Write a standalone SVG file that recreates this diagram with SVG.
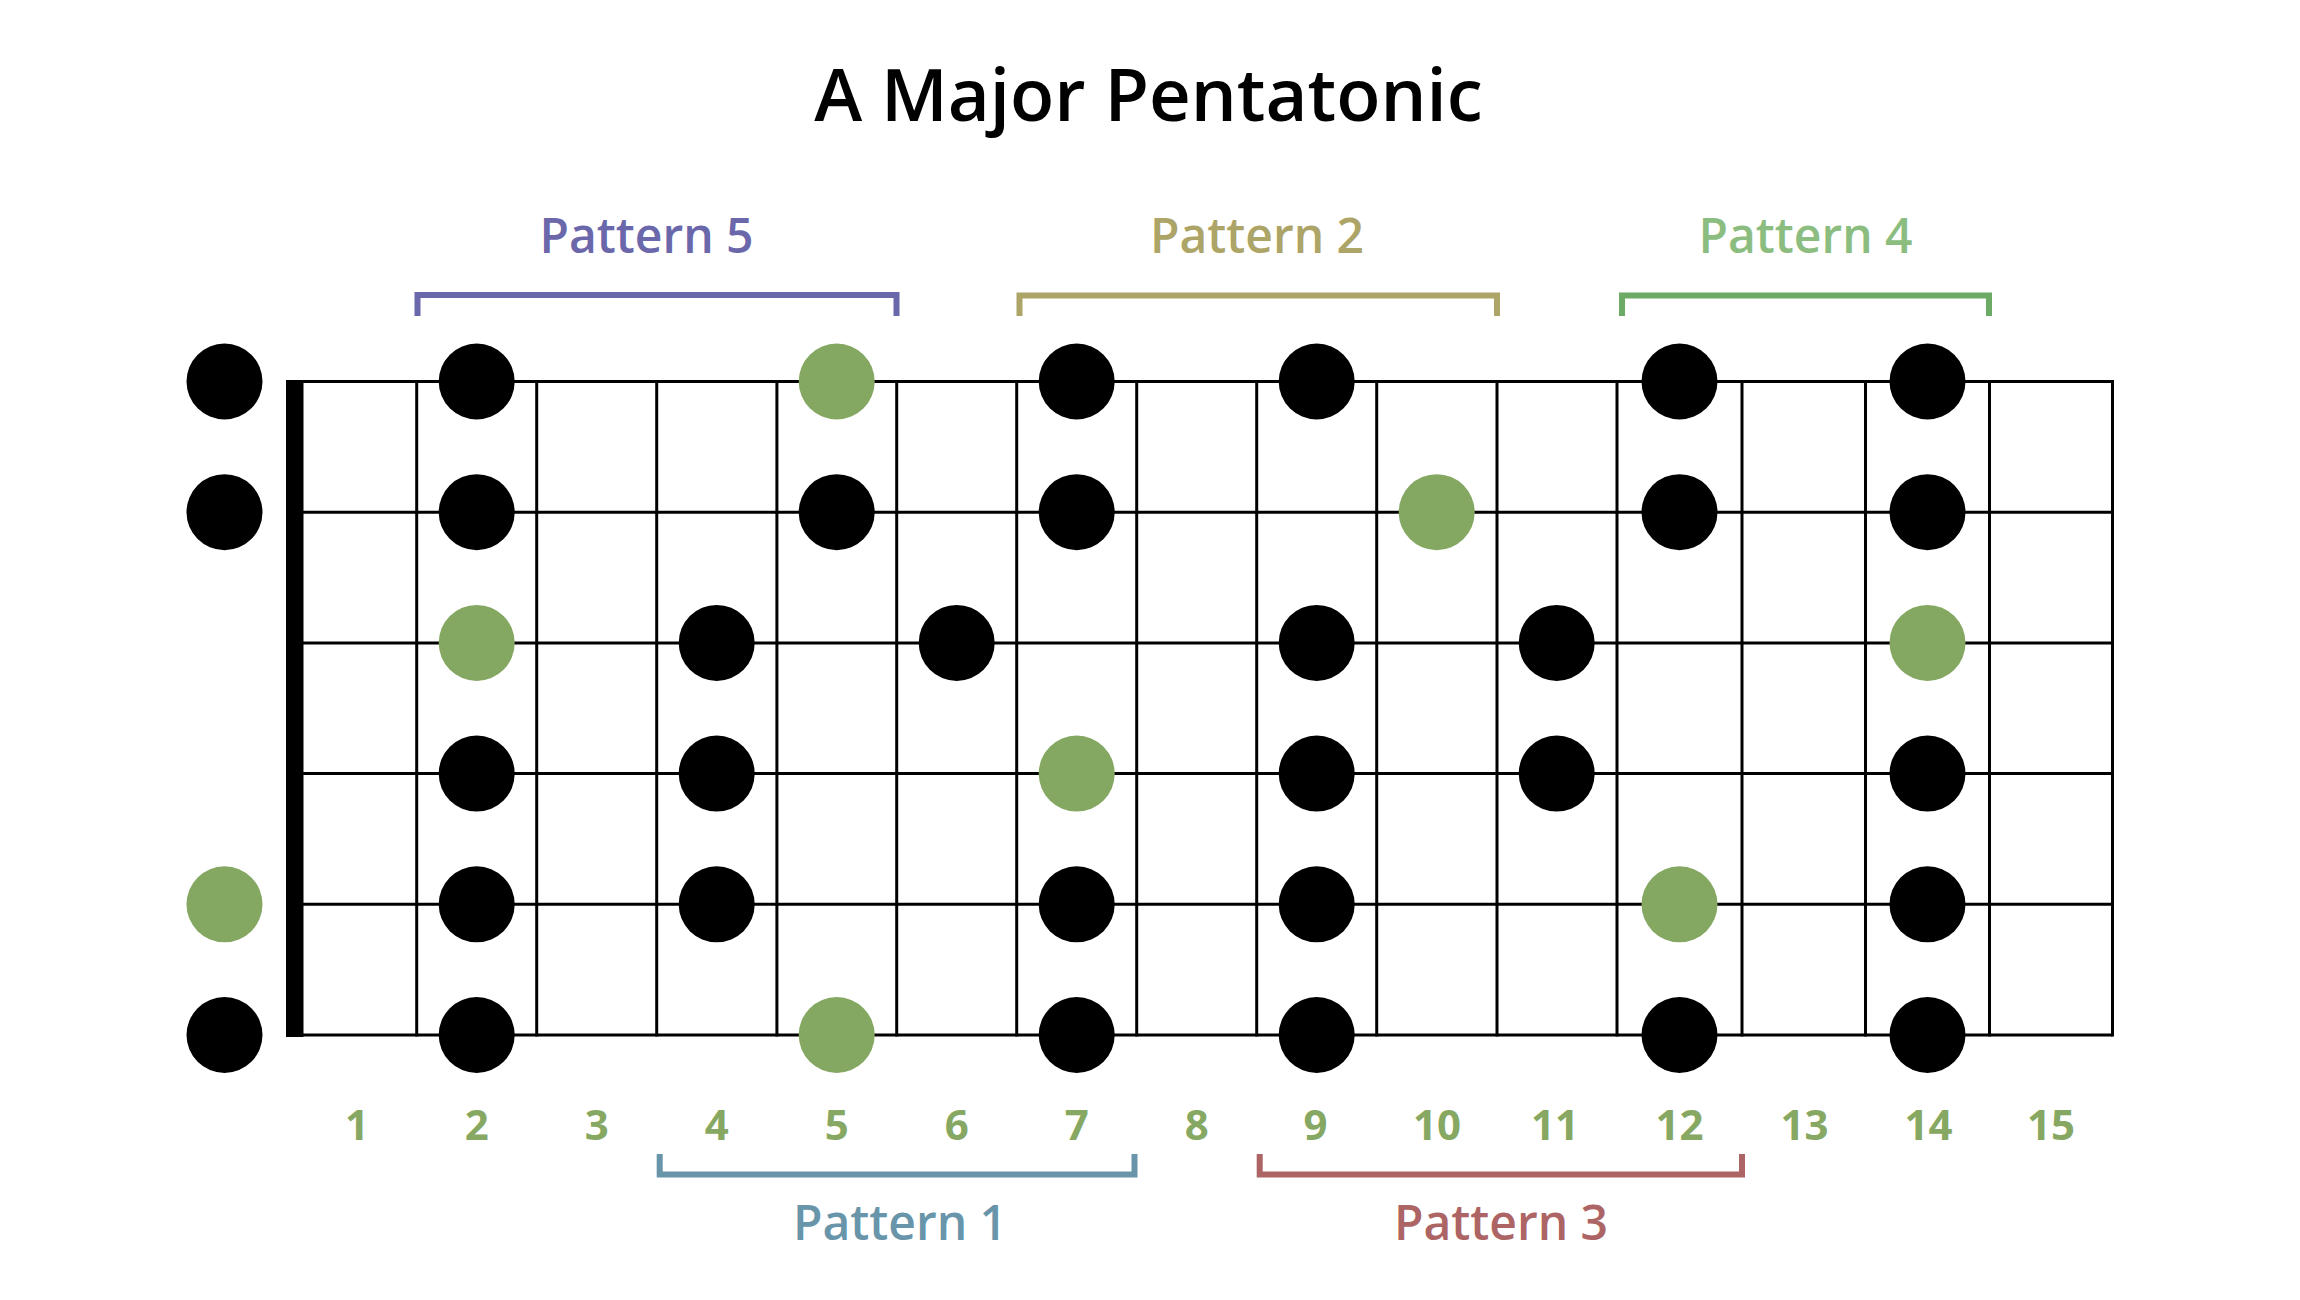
<svg xmlns="http://www.w3.org/2000/svg" width="2300" height="1300" viewBox="0 0 2300 1300">
<style>
  .title{font-family:"Open Sans","Noto Sans","Liberation Sans",sans-serif;font-weight:600;font-size:72.5px;fill:#000;text-anchor:middle}
  .pat{font-family:"Open Sans","Noto Sans","Liberation Sans",sans-serif;font-weight:600;font-size:48px;text-anchor:middle}
  .num{font-family:"Open Sans","Noto Sans","Liberation Sans",sans-serif;font-weight:700;font-size:42px;fill:#86a863;text-anchor:middle}
  .str{stroke:#000;stroke-width:3;fill:none}
  .fret{stroke:#000;stroke-width:3;fill:none}
  .br{fill:none;stroke-width:6;stroke-linecap:butt;stroke-linejoin:miter}
  .b{fill:#000}
  .g{fill:#84a862}
</style>
<rect width="2300" height="1300" fill="#fff"/>
<text class="title" x="1148.5" y="121">A Major Pentatonic</text>

<g id="fretboard">
  <rect x="286" y="380" width="17.5" height="657" fill="#000"/>
  <g class="str">
    <line x1="303" y1="381.5" x2="2112.5" y2="381.5"/>
    <line x1="303" y1="512.2" x2="2112.5" y2="512.2"/>
    <line x1="303" y1="642.9" x2="2112.5" y2="642.9"/>
    <line x1="303" y1="773.6" x2="2112.5" y2="773.6"/>
    <line x1="303" y1="904.3" x2="2112.5" y2="904.3"/>
    <line x1="303" y1="1035" x2="2112.5" y2="1035"/>
  </g>
  <g class="fret">
    <line x1="416.7" y1="380" x2="416.7" y2="1036.5"/>
    <line x1="536.7" y1="380" x2="536.7" y2="1036.5"/>
    <line x1="656.7" y1="380" x2="656.7" y2="1036.5"/>
    <line x1="776.9" y1="380" x2="776.9" y2="1036.5"/>
    <line x1="896.7" y1="380" x2="896.7" y2="1036.5"/>
    <line x1="1016.7" y1="380" x2="1016.7" y2="1036.5"/>
    <line x1="1136.7" y1="380" x2="1136.7" y2="1036.5"/>
    <line x1="1256.7" y1="380" x2="1256.7" y2="1036.5"/>
    <line x1="1376.7" y1="380" x2="1376.7" y2="1036.5"/>
    <line x1="1497" y1="380" x2="1497" y2="1036.5"/>
    <line x1="1617" y1="380" x2="1617" y2="1036.5"/>
    <line x1="1742" y1="380" x2="1742" y2="1036.5"/>
    <line x1="1865.5" y1="380" x2="1865.5" y2="1036.5"/>
    <line x1="1989.5" y1="380" x2="1989.5" y2="1036.5"/>
    <line x1="2112.5" y1="380" x2="2112.5" y2="1036.5"/>
  </g>
</g>

<g id="fret-numbers">
  <text class="num" x="357" y="1140">1</text>
  <text class="num" x="476.7" y="1140">2</text>
  <text class="num" x="596.7" y="1140">3</text>
  <text class="num" x="716.7" y="1140">4</text>
  <text class="num" x="836.7" y="1140">5</text>
  <text class="num" x="956.7" y="1140">6</text>
  <text class="num" x="1076.7" y="1140">7</text>
  <text class="num" x="1196.7" y="1140">8</text>
  <text class="num" x="1315.5" y="1140">9</text>
  <text class="num" x="1437" y="1140">10</text>
  <text class="num" x="1555" y="1140">11</text>
  <text class="num" x="1679.5" y="1140">12</text>
  <text class="num" x="1804.5" y="1140">13</text>
  <text class="num" x="1928.5" y="1140">14</text>
  <text class="num" x="2051" y="1140">15</text>
</g>

<g id="connectors">
  <path id="bracket-p5" class="br" stroke="#6a67ab" d="M417.5 316 V295 H896.5 V316"/>
  <path id="bracket-p2" class="br" stroke="#ada467" d="M1019.5 316 V295.5 H1497 V316"/>
  <path id="bracket-p4" class="br" stroke="#6cab66" d="M1622 316 V295.5 H1989 V316"/>
  <path id="bracket-p1" class="br" stroke="#6895aa" d="M659.7 1154 V1174.5 H1134.5 V1154"/>
  <path id="bracket-p3" class="br" stroke="#ad6464" d="M1259.7 1154 V1174.5 H1742 V1154"/>
</g>

<g id="pattern-5"><text class="pat" fill="#6a67ab" x="646.5" y="253.3">Pattern 5</text></g>
<g id="pattern-2"><text class="pat" fill="#ada467" x="1257" y="253.3">Pattern 2</text></g>
<g id="pattern-4"><text class="pat" fill="#8cbd80" x="1805.5" y="253.3">Pattern 4</text></g>
<g id="pattern-1"><text class="pat" fill="#6895aa" x="900" y="1240">Pattern 1</text></g>
<g id="pattern-3"><text class="pat" fill="#ad6464" x="1501" y="1240">Pattern 3</text></g>

<g id="string-1">
  <circle class="b" cx="224.5" cy="381.5" r="38"/>
  <circle class="b" cx="476.7" cy="381.5" r="38"/>
  <circle class="g" cx="836.7" cy="381.5" r="38"/>
  <circle class="b" cx="1076.7" cy="381.5" r="38"/>
  <circle class="b" cx="1316.7" cy="381.5" r="38"/>
  <circle class="b" cx="1679.5" cy="381.5" r="38"/>
  <circle class="b" cx="1927.5" cy="381.5" r="38"/>
</g>
<g id="string-2">
  <circle class="b" cx="224.5" cy="512.2" r="38"/>
  <circle class="b" cx="476.7" cy="512.2" r="38"/>
  <circle class="b" cx="836.7" cy="512.2" r="38"/>
  <circle class="b" cx="1076.7" cy="512.2" r="38"/>
  <circle class="g" cx="1436.7" cy="512.2" r="38"/>
  <circle class="b" cx="1679.5" cy="512.2" r="38"/>
  <circle class="b" cx="1927.5" cy="512.2" r="38"/>
</g>
<g id="string-3">
  <circle class="g" cx="476.7" cy="642.9" r="38"/>
  <circle class="b" cx="716.7" cy="642.9" r="38"/>
  <circle class="b" cx="956.7" cy="642.9" r="38"/>
  <circle class="b" cx="1316.7" cy="642.9" r="38"/>
  <circle class="b" cx="1556.7" cy="642.9" r="38"/>
  <circle class="g" cx="1927.5" cy="642.9" r="38"/>
</g>
<g id="string-4">
  <circle class="b" cx="476.7" cy="773.6" r="38"/>
  <circle class="b" cx="716.7" cy="773.6" r="38"/>
  <circle class="g" cx="1076.7" cy="773.6" r="38"/>
  <circle class="b" cx="1316.7" cy="773.6" r="38"/>
  <circle class="b" cx="1556.7" cy="773.6" r="38"/>
  <circle class="b" cx="1927.5" cy="773.6" r="38"/>
</g>
<g id="string-5">
  <circle class="g" cx="224.5" cy="904.3" r="38"/>
  <circle class="b" cx="476.7" cy="904.3" r="38"/>
  <circle class="b" cx="716.7" cy="904.3" r="38"/>
  <circle class="b" cx="1076.7" cy="904.3" r="38"/>
  <circle class="b" cx="1316.7" cy="904.3" r="38"/>
  <circle class="g" cx="1679.5" cy="904.3" r="38"/>
  <circle class="b" cx="1927.5" cy="904.3" r="38"/>
</g>
<g id="string-6">
  <circle class="b" cx="224.5" cy="1035" r="38"/>
  <circle class="b" cx="476.7" cy="1035" r="38"/>
  <circle class="g" cx="836.7" cy="1035" r="38"/>
  <circle class="b" cx="1076.7" cy="1035" r="38"/>
  <circle class="b" cx="1316.7" cy="1035" r="38"/>
  <circle class="b" cx="1679.5" cy="1035" r="38"/>
  <circle class="b" cx="1927.5" cy="1035" r="38"/>
</g>
</svg>
